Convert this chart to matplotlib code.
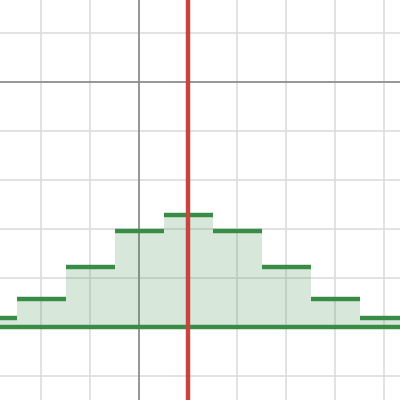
import matplotlib
matplotlib.use("Agg")
from matplotlib import pyplot as plt
import numpy as np

# step centres and heights
centers = [-4, -3, -2, -1, 0, 1, 2, 3, 4]
heights = [0.18, 0.57, 1.22, 1.96, 2.29, 1.96, 1.22, 0.57, 0.18]

green = '#388c46'
red = '#c74440'

fig = plt.figure(figsize=(4, 4), dpi=100)
ax = fig.add_axes([0, 0, 1, 1])
ax.set_xlim(-188 / 49, 212 / 49)
ax.set_ylim(-73 / 49, 327 / 49)

# grid
for gx in np.arange(-3, 5):
    ax.axvline(gx, color='#dddddd', lw=1.2, zorder=0)
for gy in np.arange(-1, 7):
    ax.axhline(gy, color='#dddddd', lw=1.2, zorder=0)
ax.axvline(-1, color='#8a8a8a', lw=1.2, zorder=0)
ax.axhline(5, color='#8a8a8a', lw=1.2, zorder=0)

for c, h in zip(centers, heights):
    ax.fill_between([c - 0.5, c + 0.5], 0, h, color=green, alpha=0.2, lw=0)
    ax.plot([c - 0.5, c + 0.5], [h, h], color=green, lw=3.2, solid_capstyle='butt')

ax.axhline(0, color=green, lw=3.2)
ax.axvline(0, color=red, lw=3.2)

ax.set_xticks([])
ax.set_yticks([])
for s in ax.spines.values():
    s.set_visible(False)

fig.savefig('out.png')
